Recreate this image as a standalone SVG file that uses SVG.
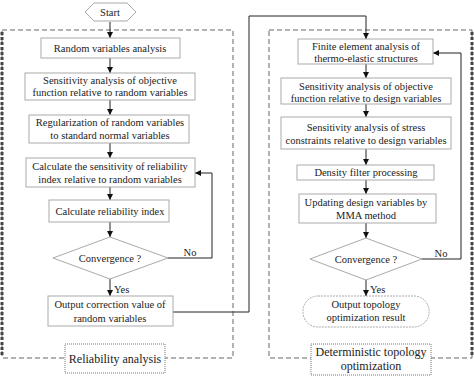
<svg xmlns="http://www.w3.org/2000/svg" width="474" height="376" viewBox="0 0 474 376">
<defs>
<marker id="ah" viewBox="0 0 10 10" refX="10" refY="5" markerWidth="6" markerHeight="6" orient="auto" markerUnits="userSpaceOnUse"><path d="M0,0 L10,5 L0,10 z" fill="#111"/></marker>
<style>
text{font-family:'Liberation Serif','DejaVu Serif',serif;font-size:10.5px;fill:#222;text-anchor:middle}
.box{fill:#fff;stroke:#aaa;stroke-width:1}
.frame{fill:none;stroke:#666;stroke-width:1;stroke-dasharray:5,3}
.thick{fill:none;stroke:#444;stroke-width:3;stroke-dasharray:3,2}
.lab{fill:#fff;stroke:#777;stroke-width:1;stroke-dasharray:1,1}
.con{fill:none;stroke:#222;stroke-width:1}
.big{font-size:12px}
</style>
</defs>
<rect width="474" height="376" fill="#fff"/>
<g id="frames">
<rect class="frame" x="2" y="30" width="231" height="328"/>
<line class="thick" x1="2" y1="32" x2="2" y2="356"/>
<rect class="frame" x="269" y="30" width="203" height="328"/>
<line class="thick" x1="472" y1="32" x2="472" y2="356"/>
</g>
<g id="connectors" font-family="Liberation Serif, serif">
<line class="con" x1="110" y1="22" x2="110" y2="38" marker-end="url(#ah)"/>
<line class="con" x1="110" y1="58" x2="110" y2="73" marker-end="url(#ah)"/>
<line class="con" x1="110" y1="100" x2="110" y2="115" marker-end="url(#ah)"/>
<line class="con" x1="110" y1="143" x2="110" y2="158" marker-end="url(#ah)"/>
<line class="con" x1="110" y1="187" x2="110" y2="200" marker-end="url(#ah)"/>
<line class="con" x1="110" y1="222" x2="110" y2="237" marker-end="url(#ah)"/>
<polyline class="con" points="168,258 212,258 212,173 195,173" marker-end="url(#ah)"/>
<line class="con" x1="110" y1="279" x2="110" y2="296" marker-end="url(#ah)"/>
<polyline class="con" points="173,312 249,312 249,16 366,16 366,39" marker-end="url(#ah)"/>
<line class="con" x1="366" y1="64" x2="366" y2="78" marker-end="url(#ah)"/>
<line class="con" x1="366" y1="104" x2="366" y2="117" marker-end="url(#ah)"/>
<line class="con" x1="366" y1="149" x2="366" y2="165" marker-end="url(#ah)"/>
<line class="con" x1="366" y1="180" x2="366" y2="194" marker-end="url(#ah)"/>
<line class="con" x1="366" y1="223" x2="366" y2="238" marker-end="url(#ah)"/>
<polyline class="con" points="422,259 461,259 461,53 433,53" marker-end="url(#ah)"/>
<line class="con" x1="366" y1="280" x2="366" y2="296" marker-end="url(#ah)"/>
<text x="190" y="256">No</text>
<text x="114" y="293" style="text-anchor:start">Yes</text>
<text x="441" y="257">No</text>
<text x="370" y="293" style="text-anchor:start">Yes</text>
</g>
<g id="start">
<polygon class="box" points="85,12 94,3 127,3 136,12 127,21 94,21"/>
<text x="110" y="16">Start</text>
</g>
<g id="rva">
<rect class="box" x="41" y="38" width="139" height="20"/>
<text x="110" y="52">Random variables analysis</text>
</g>
<g id="saof">
<rect class="box" x="25" y="73" width="170" height="27"/>
<text x="110" y="84">Sensitivity analysis of objective</text>
<text x="110" y="96">function relative to random variables</text>
</g>
<g id="reg">
<rect class="box" x="29" y="115" width="160" height="28"/>
<text x="110" y="126">Regularization of random variables</text>
<text x="110" y="139">to standard normal variables</text>
</g>
<g id="csri">
<rect class="box" x="26" y="158" width="169" height="29"/>
<text x="110" y="170">Calculate the sensitivity of reliability</text>
<text x="110" y="183">index relative to random variables</text>
</g>
<g id="cri">
<rect class="box" x="49" y="200" width="120" height="22"/>
<text x="110" y="215">Calculate reliability index</text>
</g>
<g id="conv1">
<polygon class="box" points="53,258 110,237 168,258 110,279"/>
<text x="110" y="262">Convergence ?</text>
</g>
<g id="ocv">
<rect class="box" x="48" y="296" width="125" height="30"/>
<text x="110" y="308">Output correction value of</text>
<text x="110" y="322">random variables</text>
</g>
<g id="rel-label">
<rect class="lab" x="65" y="344" width="100" height="29"/>
<text class="big" x="115" y="363">Reliability analysis</text>
</g>
<g id="fea">
<rect class="box" x="298" y="39" width="135" height="25"/>
<text x="366" y="50">Finite element analysis of</text>
<text x="366" y="62">thermo-elastic structures</text>
</g>
<g id="saofd">
<rect class="box" x="281" y="78" width="170" height="26"/>
<text x="366" y="90">Sensitivity analysis of objective</text>
<text x="366" y="102">function relative to design variables</text>
</g>
<g id="sasc">
<rect class="box" x="281" y="117" width="170" height="32"/>
<text x="366" y="131">Sensitivity analysis of stress</text>
<text x="366" y="144">constraints relative to design variables</text>
</g>
<g id="dfp">
<rect class="box" x="297" y="165" width="137" height="15"/>
<text x="366" y="176">Density filter processing</text>
</g>
<g id="udv">
<rect class="box" x="299" y="194" width="137" height="29"/>
<text x="366" y="206">Updating design variables by</text>
<text x="366" y="219">MMA method</text>
</g>
<g id="conv2">
<polygon class="box" points="310,259 366,238 422,259 366,280"/>
<text x="366" y="263">Convergence ?</text>
</g>
<g id="otr">
<rect class="box" x="303" y="296" width="126" height="31" rx="15" ry="15" stroke-dasharray="2,1"/>
<text x="366" y="308">Output topology</text>
<text x="366" y="321">optimization result</text>
</g>
<g id="dto-label">
<rect class="lab" x="311" y="344" width="120" height="31"/>
<text class="big" x="371" y="356">Deterministic topology</text>
<text class="big" x="371" y="370">optimization</text>
</g>
</svg>
